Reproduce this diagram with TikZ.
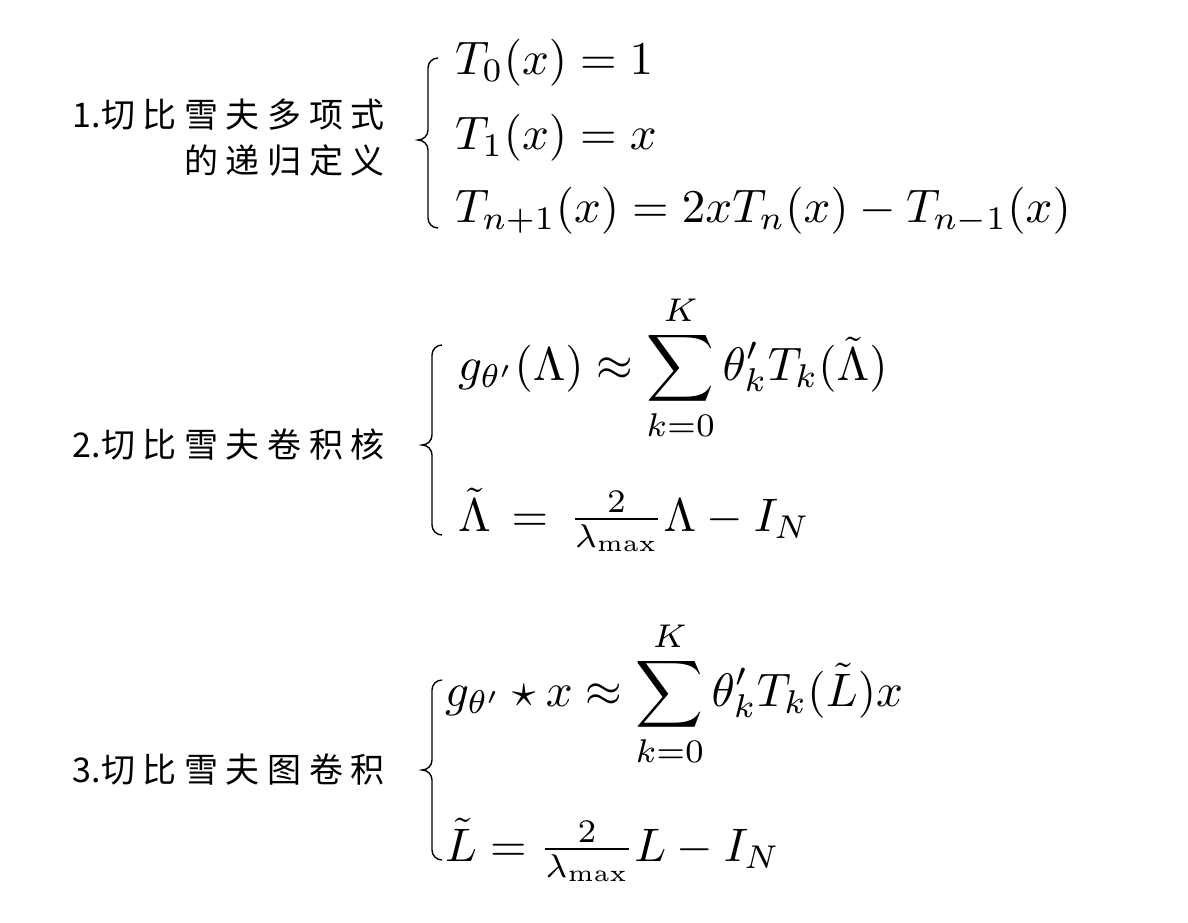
\documentclass[tikz,border=0pt]{standalone}
\usepackage{amsmath}
\usepackage{fontspec}
\usepackage{graphicx}
\newfontfamily\cjk{Noto Sans CJK SC}
\newcommand\mybrace[4]{% x, top, mid, bottom
  \draw[line width=1.4pt] (#1+10,#2) to[out=180,in=90] (#1,#2+10) -- (#1,#3-10) to[out=-90,in=0] (#1-10,#3)
    to[out=0,in=90] (#1,#3+10) -- (#1,#4-10) to[out=-90,in=180] (#1+10,#4);}
\newcommand\bigmath[1]{\scalebox{4.7}{#1}}
\begin{document}
\begin{tikzpicture}[x=1pt,y=-1pt,
  lab/.style={font=\cjk\fontsize{34}{46}\selectfont, align=right, anchor=east, inner sep=0},
  eq/.style={anchor=west, inner sep=0}]
\useasboundingbox (0,0) rectangle (1188,922);
% block 1
\node[lab] (l1) at (385,138) {1.切 比 雪 夫 多 项 式\\的 递 归 定 义};
\mybrace{428}{58}{140}{228}
\node[eq] (e11) at (455,63) {\bigmath{$T_0(x)=1$}};
\node[eq] (e12) at (455,138) {\bigmath{$T_1(x)=x$}};
\node[eq] (e13) at (455,211) {\bigmath{$T_{n+1}(x)=2xT_n(x)-T_{n-1}(x)$}};
% block 2
\node[lab] (l2) at (385,445) {2.切 比 雪 夫 卷 积 核};
\mybrace{432}{345}{445}{535}
\node[eq] (e21) at (458,368) {\bigmath{$\displaystyle g_{\theta'}(\Lambda)\approx\sum_{k=0}^{K}\theta'_kT_k(\tilde\Lambda)$}};
\node[eq] (e22) at (458,520) {\bigmath{$\tilde\Lambda\,=\,\frac{2}{\lambda_{\max}}\Lambda-I_N$}};
% block 3
\node[lab] (l3) at (385,770) {3.切 比 雪 夫 图 卷 积};
\mybrace{432}{680}{770}{860}
\node[eq] (e31) at (445,694) {\bigmath{$\displaystyle g_{\theta'}\star x\approx\sum_{k=0}^{K}\theta'_kT_k(\tilde L)x$}};
\node[eq] (e32) at (445,850) {\bigmath{$\tilde L=\frac{2}{\lambda_{\max}}L-I_N$}};
\end{tikzpicture}
\end{document}
